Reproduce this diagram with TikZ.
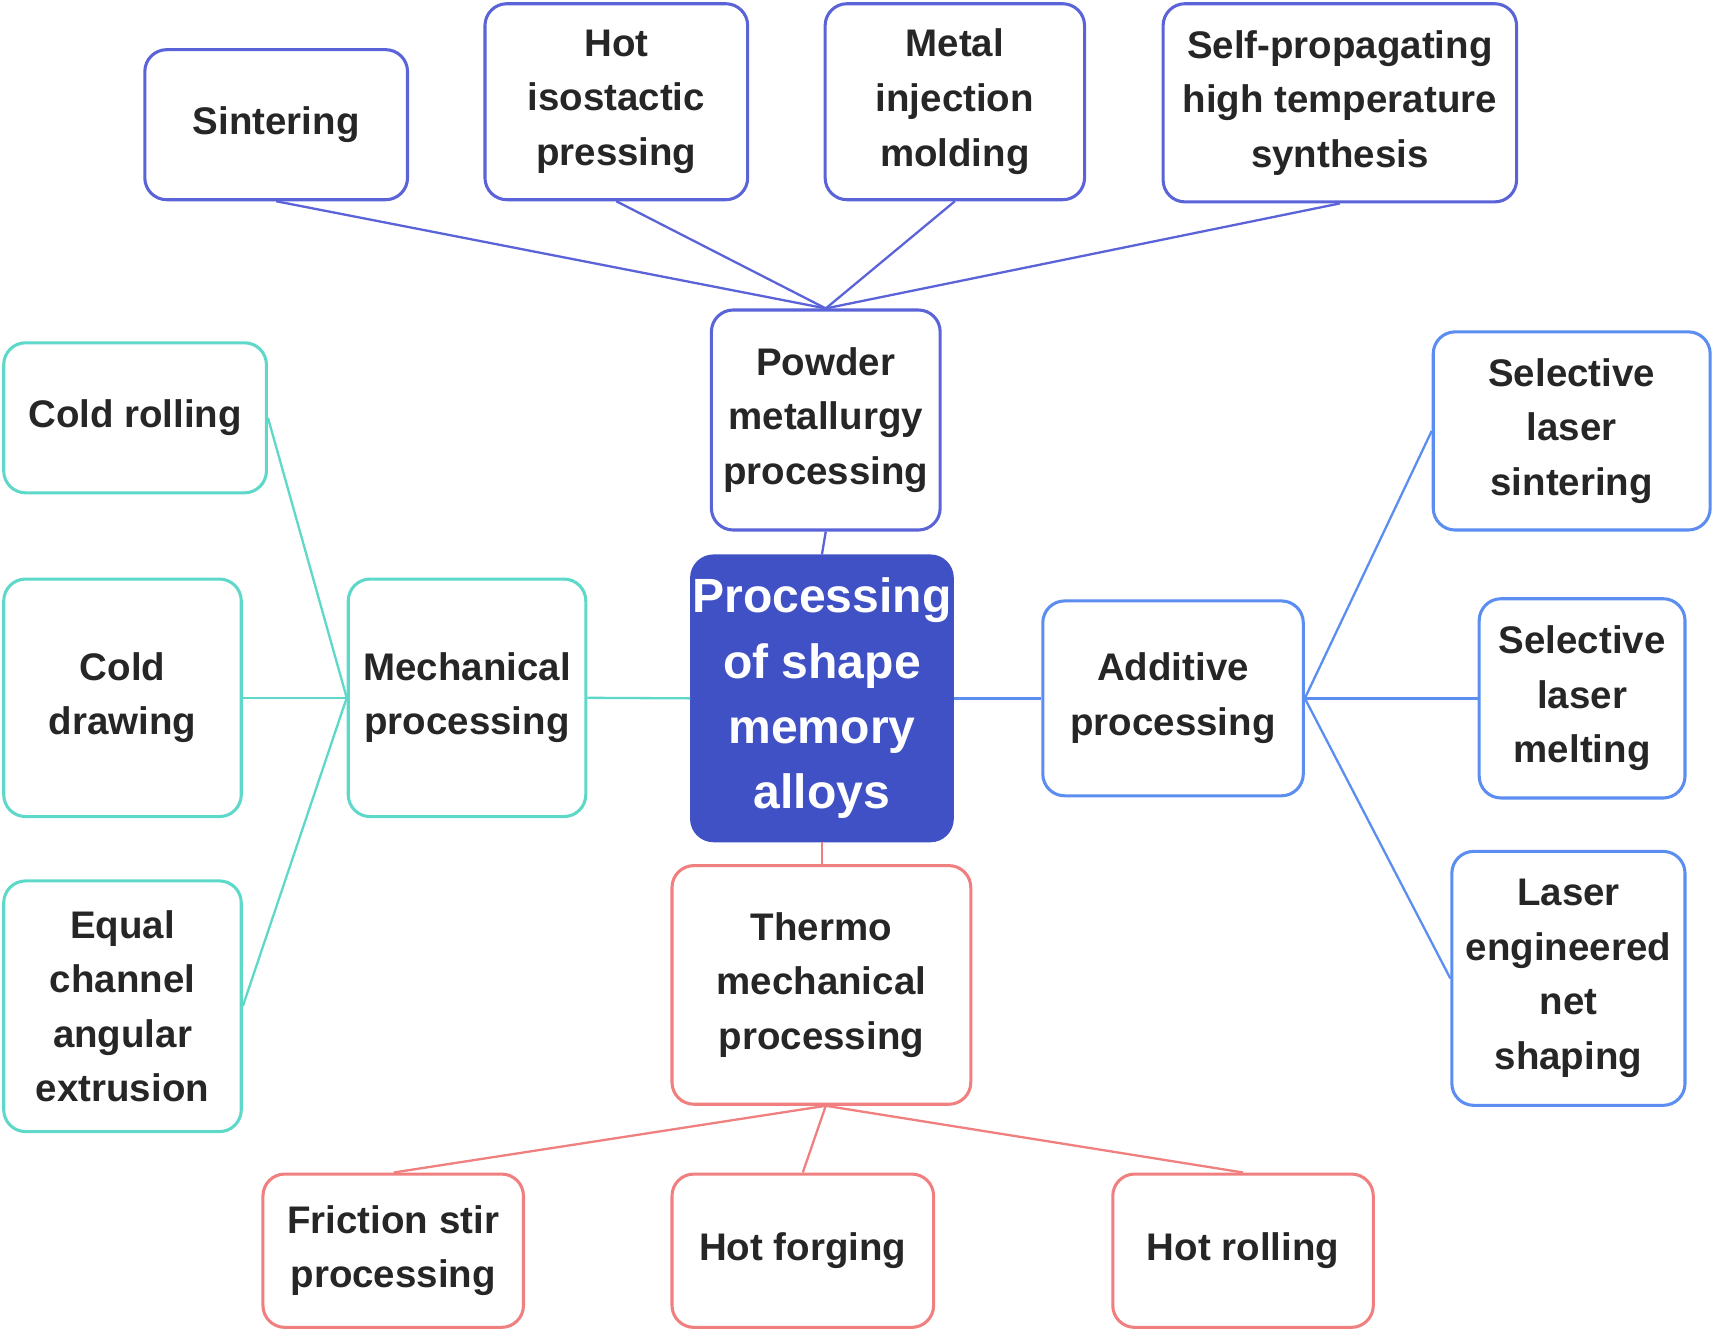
\documentclass[tikz,border=0pt]{standalone}
\usepackage{fontspec}
\setmainfont{Liberation Sans}
\definecolor{pb}{HTML}{5A64D8}
\definecolor{cf}{HTML}{3F51C4}
\definecolor{tl}{HTML}{5ED8C8}
\definecolor{ab}{HTML}{5B8EF0}
\definecolor{rd}{HTML}{F08080}
\begin{document}
\begin{tikzpicture}[x=0.01cm,y=-0.01cm,
 bx/.style={draw,rounded corners=0.2cm,line width=0.8pt,align=center,inner sep=0pt,
   font=\fontsize{10}{14.2}\selectfont\bfseries,text=black!85},
 ln/.style={line width=0.6pt}]
\useasboundingbox (0,0) rectangle (1568,1218);
\newcommand{\bxat}[7]{\node[bx,draw=#6,minimum width=#4*0.01cm-0.8pt,minimum height=#5*0.01cm-0.8pt] (#1) at ({(#2+#4/2)},{(#3+#5/2)}) {#7};}
% x y w h
\bxat{sint}{131}{44}{243}{140}{pb}{Sintering}
\bxat{hip}{442}{2}{243}{182}{pb}{Hot\\isostactic\\pressing}
\bxat{mim}{753}{2}{240}{182}{pb}{Metal\\injection\\molding}
\bxat{shs}{1062}{2}{326}{184}{pb}{Self-propagating\\high temperature\\synthesis}
\bxat{pm}{649}{282}{212}{204}{pb}{Powder\\metallurgy\\processing}
\node[bx,draw=cf,fill=cf,text=white,minimum width=2.41cm-0.8pt,minimum height=2.63cm-0.8pt,
  font=\fontsize{12.5}{17}\selectfont\bfseries] (c) at (751.5,638.5) {Processing\\of shape\\memory\\alloys};
\bxat{cr}{2}{312}{243}{140}{tl}{Cold rolling}
\bxat{cd}{2}{528}{220}{220}{tl}{Cold\\drawing}
\bxat{ec}{2}{804}{220}{232}{tl}{Equal\\channel\\angular\\extrusion}
\bxat{me}{317}{528}{220}{220}{tl}{Mechanical\\processing}
\bxat{ad}{952}{548}{241}{181}{ab}{Additive\\processing}
\bxat{sls}{1309}{302}{256}{184}{ab}{Selective\\laser\\sintering}
\bxat{slm}{1351}{546}{191}{185}{ab}{Selective\\laser\\melting}
\bxat{le}{1326}{777}{216}{235}{ab}{Laser\\engineered\\net\\shaping}
\bxat{tm}{613}{790}{276}{221}{rd}{Thermo\\mechanical\\processing}
\bxat{fs}{239}{1072}{241}{143}{rd}{Friction stir\\processing}
\bxat{hf}{613}{1072}{242}{143}{rd}{Hot forging}
\bxat{hr}{1016}{1072}{241}{143}{rd}{Hot rolling}
\coordinate (pt) at (755,282);
\foreach \n in {sint,hip,mim,shs} \draw[ln,pb] (\n.south) -- (pt);
\draw[ln,pb] (pm.south) -- (c.north);
\draw[ln,tl] (c.west) -- (me.east);
\foreach \n in {cr,cd,ec} \draw[ln,tl] (me.west) -- (\n.east);
\draw[ln,ab] (c.east) -- (ad.west);
\foreach \n in {sls,slm,le} \draw[ln,ab] (ad.east) -- (\n.west);
\draw[ln,rd] (c.south) -- (tm.north -| c.south);
\coordinate (tb) at (755,1011);
\draw[ln,rd] (tb) -- (360,1072) coordinate (fsn);
\draw[ln,rd] (tb) -- (hf.north);
\draw[ln,rd] (tb) -- (hr.north);
\end{tikzpicture}
\end{document}
